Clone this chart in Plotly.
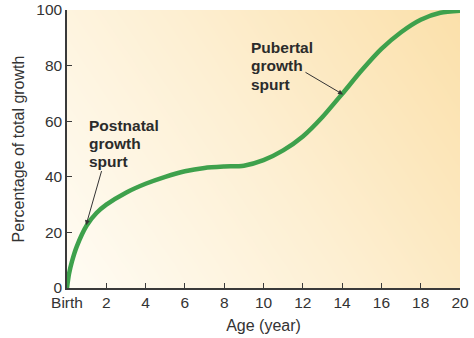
import numpy as np
import plotly.graph_objects as go

# Cumulative growth curve (percentage of total growth by age)
age = [0, 0.1, 0.25, 0.5, 1, 1.5, 2, 3, 4, 5, 6, 7, 8, 9, 10,
       11, 12, 13, 14, 15, 16, 17, 18, 19, 20]
growth_pct = [0, 5, 9.5, 15, 22.5, 27, 30, 34.3, 37.5, 40, 42, 43.2, 43.7, 44, 46,
              49.5, 54.5, 61.5, 69.8, 78.3, 86, 92, 96.5, 99, 99.7]

x_tickvals = [0, 2, 4, 6, 8, 10, 12, 14, 16, 18, 20]
x_ticktext = ["Birth", "2", "4", "6", "8", "10", "12", "14", "16", "18", "20"]
y_tickvals = [0, 20, 40, 60, 80, 100]

postnatal_lines = ["Postnatal", "growth", "spurt"]
pubertal_lines = ["Pubertal", "growth", "spurt"]

FONT = "Liberation Sans, Arial, Helvetica, sans-serif"
TEXT = "#2b2b2b"
AXIS = "#3a3a3a"
GREEN = "#3ea14c"

# Soft background wash (near white at the left, tan towards the top-right)
gx = np.linspace(0, 20, 60)
gy = np.linspace(0, 100, 60)
GX, GY = np.meshgrid(gx, gy)
wash = 0.68 * GX / 20 + 0.32 * GY / 100

fig = go.Figure()
fig.add_trace(go.Heatmap(
    x=gx, y=gy, z=wash, zsmooth="best", showscale=False, hoverinfo="skip",
    colorscale=[[0, "#fffcf4"], [0.5, "#fdefd2"], [1, "#fbe0aa"]],
))
fig.add_trace(go.Scatter(
    x=age, y=growth_pct, mode="lines",
    line=dict(color=GREEN, width=4.5, shape="spline", smoothing=0.7),
    hoverinfo="skip",
))


def add_label(lines, x, y_top, step):
    """Stacked bold label, one annotation per line (tight line spacing)."""
    for i, t in enumerate(lines):
        fig.add_annotation(
            x=x, y=y_top - i * step, xref="x", yref="y",
            xanchor="left", yanchor="middle",
            text=f"<b>{t}</b>", showarrow=False,
            font=dict(family=FONT, size=15.5, color=TEXT),
        )


add_label(postnatal_lines, 1.0, 58.4, 6.4)
add_label(pubertal_lines, 9.25, 86.5, 6.6)

fig.add_annotation(
    x=0.97, y=22.6, ax=1.78, ay=42.6, xref="x", yref="y", axref="x", ayref="y",
    text="", showarrow=True, arrowhead=2, arrowsize=1, arrowwidth=1, arrowcolor="#333",
)
fig.add_annotation(
    x=14.05, y=69.6, ax=12.06, ay=77.9, xref="x", yref="y", axref="x", ayref="y",
    text="", showarrow=True, arrowhead=2, arrowsize=1, arrowwidth=1, arrowcolor="#333",
)

fig.update_layout(
    width=474, height=338,
    margin=dict(l=67, r=14, t=10, b=50),
    paper_bgcolor="white", plot_bgcolor="white",
    showlegend=False,
    font=dict(family=FONT, size=15.5, color="#333333"),
    xaxis=dict(
        range=[0, 20], tickvals=x_tickvals, ticktext=x_ticktext,
        showgrid=False, zeroline=False, showline=True, linecolor=AXIS, linewidth=1.5,
        ticks="inside", ticklen=5, tickcolor=AXIS, tickwidth=1,
        title=dict(text="Age (year)", standoff=9, font=dict(size=16)),
        automargin=False,
    ),
    yaxis=dict(
        range=[0, 100], tickvals=y_tickvals,
        showgrid=False, zeroline=False, showline=True, linecolor=AXIS, linewidth=1.5,
        ticks="inside", ticklen=5, tickcolor=AXIS, tickwidth=1,
        title=dict(text="Percentage of total growth", standoff=8, font=dict(size=16)),
        automargin=False,
    ),
)

fig.write_html("out.html")
